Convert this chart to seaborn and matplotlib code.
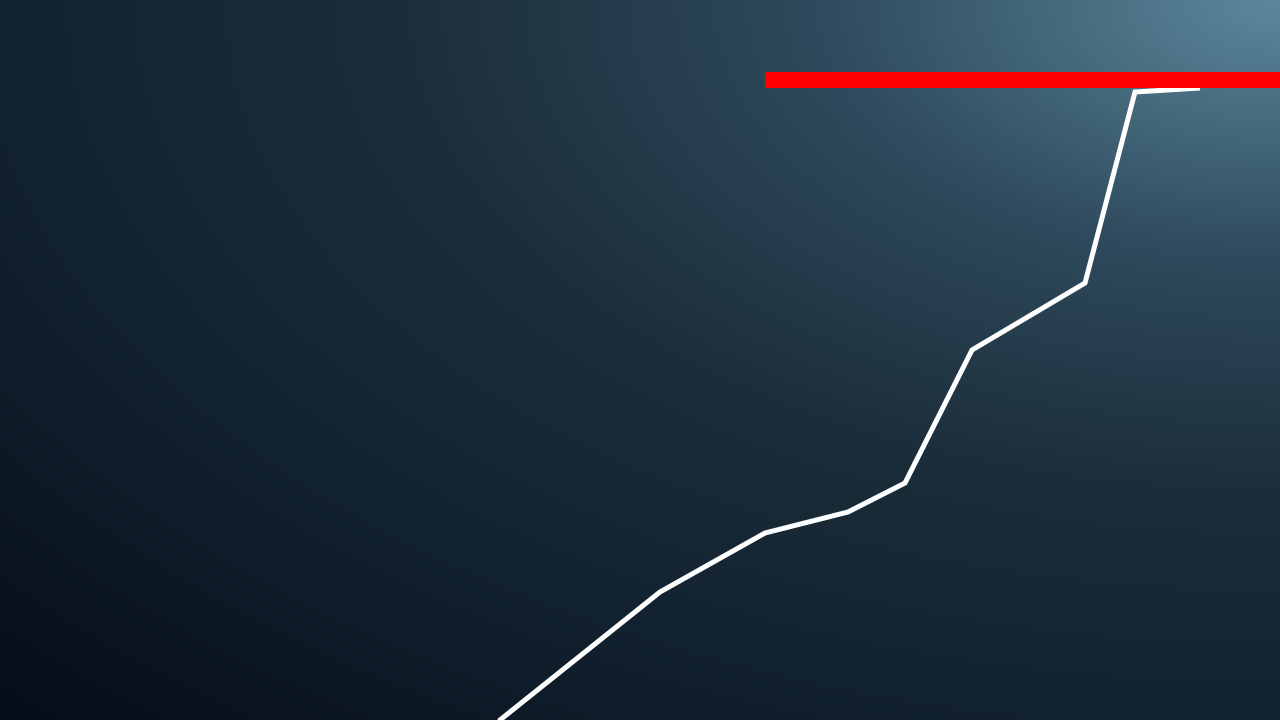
import numpy as np
import pandas as pd
import matplotlib
matplotlib.use('Agg')
import matplotlib.pyplot as plt
from matplotlib.colors import LinearSegmentedColormap
import seaborn as sns

# white line values (x, y)
line_x = [49.0, 66.0, 76.5, 84.8, 90.5, 97.2, 108.5, 113.5, 120.0]
line_y = [-0.8, 12.8, 18.7, 20.8, 23.7, 37.0, 43.7, 62.8, 63.2]

# red target level
target_level = 64.0
target_start = 76.5

sns.set_theme(style='white')

fig = plt.figure(figsize=(12.8, 7.2), dpi=100)
ax = fig.add_axes([0, 0, 1, 1])
ax.axis('off')

# background gradient, light in the top right corner (row 0 = top)
gx, gy = np.meshgrid(np.linspace(0, 1280, 640), np.linspace(0, 720, 360))
d = np.sqrt((1280 - gx) ** 2 + (gy * 1.78) ** 2) / 1280
bg = LinearSegmentedColormap.from_list('bg', [
    (0.0, '#5c879c'),
    (0.36 / 1.45, '#2e4a5c'),
    (0.68 / 1.45, '#1c2e3b'),
    (1.0 / 1.45, '#132230'),
    (1.0, '#040c16'),
])
ax.imshow(d, cmap=bg, vmin=0, vmax=1.45, extent=[0, 128, 0, 72], origin='upper',
          aspect='auto', zorder=0, interpolation='bilinear')

df = pd.DataFrame({'x': line_x, 'y': line_y})
sns.lineplot(data=df, x='x', y='y', ax=ax, color='white', lw=3.6,
             sort=False, zorder=2, solid_joinstyle='miter', solid_capstyle='butt')

ax.hlines(target_level, target_start, 128, color='#ff0000', lw=11.5, zorder=3)

ax.set_xlim(0, 128)
ax.set_ylim(0, 72)
fig.savefig('out.png', dpi=100)
